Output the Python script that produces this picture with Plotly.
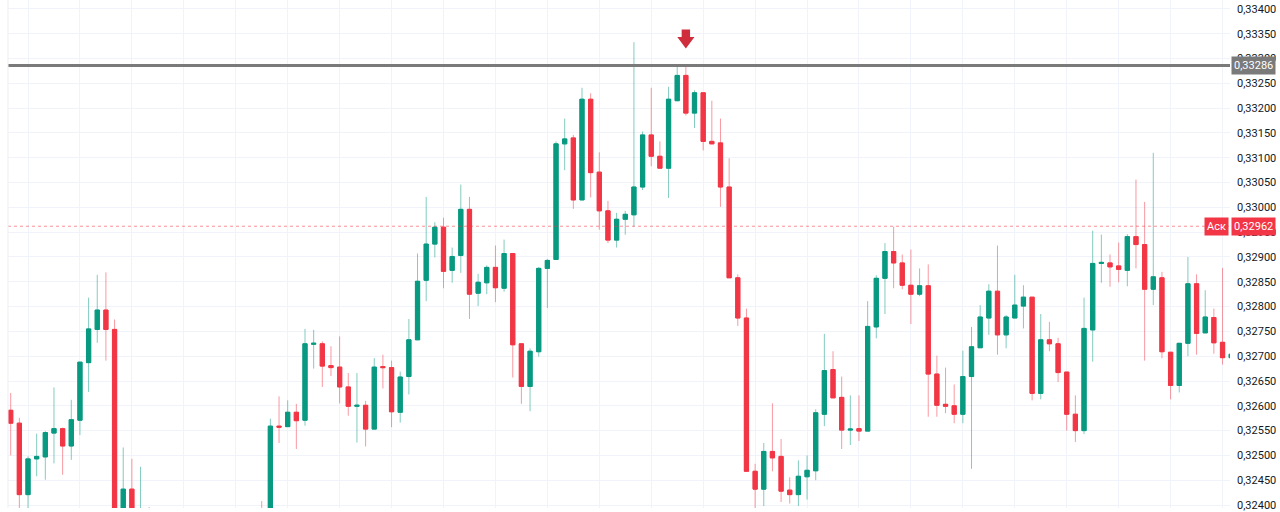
import plotly.graph_objects as go

# ---- data ----
opens = [0.32591,0.32565,0.32421,0.32493,0.32497,0.32545,0.32554,0.32519,0.32571,0.32687,
         0.32754,0.32793,0.32754,0.32380,0.32432,0.32378,0.32388,0.32350,0.32330,0.32345,
         0.32320,0.32300,0.32315,0.32290,0.32305,0.32325,0.32340,0.32330,0.32355,0.32370,
         0.32345,0.32559,0.32558,0.32587,0.32571,0.32724,0.32725,0.32681,0.32678,0.32638,
         0.32599,0.32601,0.32553,0.32679,0.32677,0.32587,0.32659,0.32733,0.32853,0.32926,
         0.32960,0.32873,0.32903,0.32996,0.32827,0.32848,0.32879,0.32837,0.32907,0.32725,
         0.32639,0.32709,0.32877,0.32895,0.33128,0.33140,0.33015,0.33218,0.33071,0.32993,
         0.32934,0.32976,0.32985,0.33041,0.33146,0.33103,0.33079,0.33215,0.33266,0.33190,
         0.33231,0.33133,0.33130,0.33041,0.32858,0.32777,0.32468,0.32432,0.32508,0.32498,
         0.32430,0.32421,0.32457,0.32469,0.32583,0.32673,0.32617,0.32551,0.32554,0.32549,
         0.32759,0.32857,0.32911,0.32888,0.32843,0.32825,0.32842,0.32664,0.32603,0.32600,
         0.32583,0.32659,0.32717,0.32777,0.32831,0.32743,0.32777,0.32801,0.32819,0.32625,
         0.32733,0.32725,0.32668,0.32583,0.32550,0.32753,0.32887,0.32888,0.32882,0.32873,
         0.32941,0.32925,0.32835,0.32858,0.32708,0.32641,0.32726,0.32846,0.32747,0.32778,
         0.32728,0.32697]
highs = [0.32626,0.32576,0.32498,0.32544,0.32549,0.32637,0.32556,0.32612,0.32688,0.32818,
         0.32864,0.32869,0.32774,0.32516,0.32493,0.32477,0.32396,0.32370,0.32360,0.32365,
         0.32340,0.32335,0.32330,0.32320,0.32340,0.32360,0.32365,0.32375,0.32385,0.32408,
         0.32574,0.32619,0.32611,0.32604,0.32755,0.32753,0.32730,0.32720,0.32740,0.32666,
         0.32666,0.32610,0.32696,0.32703,0.32691,0.32669,0.32775,0.32907,0.33021,0.32970,
         0.32979,0.32919,0.33046,0.33021,0.32866,0.32883,0.32923,0.32935,0.32907,0.32725,
         0.32716,0.32880,0.32896,0.33133,0.33179,0.33146,0.33241,0.33230,0.33111,0.33013,
         0.32989,0.32993,0.33333,0.33153,0.33241,0.33133,0.33243,0.33285,0.33288,0.33236,
         0.33231,0.33215,0.33179,0.33099,0.32865,0.32796,0.32483,0.32525,0.32605,0.32533,
         0.32456,0.32490,0.32500,0.32593,0.32745,0.32710,0.32659,0.32621,0.32621,0.32811,
         0.32863,0.32928,0.32961,0.32905,0.32915,0.32877,0.32885,0.32701,0.32677,0.32643,
         0.32711,0.32759,0.32803,0.32845,0.32923,0.32783,0.32864,0.32843,0.32819,0.32785,
         0.32769,0.32737,0.32668,0.32621,0.32818,0.32953,0.32945,0.32905,0.32929,0.32946,
         0.33056,0.33011,0.33110,0.32870,0.32708,0.32726,0.32900,0.32865,0.32833,0.32796,
         0.32878,0.32715]
lows = [0.32500,0.32390,0.32390,0.32458,0.32451,0.32484,0.32461,0.32491,0.32541,0.32628,
        0.32727,0.32691,0.32360,0.32365,0.32350,0.32340,0.32330,0.32310,0.32300,0.32300,
        0.32280,0.32285,0.32270,0.32275,0.32295,0.32310,0.32315,0.32320,0.32340,0.32330,
        0.32335,0.32525,0.32558,0.32513,0.32560,0.32675,0.32638,0.32660,0.32605,0.32580,
        0.32526,0.32518,0.32553,0.32635,0.32557,0.32566,0.32623,0.32733,0.32811,0.32899,
        0.32837,0.32848,0.32868,0.32775,0.32801,0.32825,0.32809,0.32830,0.32657,0.32604,
        0.32589,0.32699,0.32797,0.32895,0.33075,0.32997,0.33015,0.33020,0.32955,0.32928,
        0.32919,0.32945,0.32961,0.33035,0.33083,0.33079,0.33019,0.33215,0.33185,0.33160,
        0.33115,0.33128,0.33001,0.32858,0.32761,0.32468,0.32394,0.32398,0.32468,0.32406,
        0.32403,0.32398,0.32411,0.32450,0.32559,0.32616,0.32513,0.32521,0.32529,0.32549,
        0.32736,0.32785,0.32837,0.32835,0.32765,0.32821,0.32578,0.32578,0.32585,0.32565,
        0.32565,0.32473,0.32717,0.32743,0.32703,0.32716,0.32777,0.32756,0.32611,0.32613,
        0.32710,0.32648,0.32550,0.32527,0.32543,0.32689,0.32848,0.32840,0.32849,0.32841,
        0.32877,0.32691,0.32803,0.32696,0.32613,0.32627,0.32700,0.32703,0.32747,0.32705,
        0.32683,0.32695]
closes = [0.32565,0.32421,0.32493,0.32498,0.32546,0.32554,0.32519,0.32572,0.32688,0.32755,
          0.32793,0.32754,0.32380,0.32432,0.32378,0.32388,0.32350,0.32330,0.32345,0.32320,
          0.32300,0.32315,0.32290,0.32305,0.32325,0.32340,0.32330,0.32355,0.32370,0.32345,
          0.32559,0.32557,0.32587,0.32570,0.32725,0.32726,0.32680,0.32677,0.32638,0.32599,
          0.32601,0.32553,0.32678,0.32677,0.32588,0.32658,0.32733,0.32851,0.32926,0.32960,
          0.32871,0.32901,0.32996,0.32825,0.32849,0.32879,0.32838,0.32907,0.32723,0.32639,
          0.32710,0.32877,0.32893,0.33128,0.33138,0.33015,0.33218,0.33070,0.32993,0.32934,
          0.32976,0.32986,0.33041,0.33146,0.33103,0.33079,0.33218,0.33266,0.33190,0.33231,
          0.33133,0.33128,0.33041,0.32858,0.32777,0.32468,0.32432,0.32508,0.32495,0.32428,
          0.32421,0.32458,0.32470,0.32586,0.32671,0.32616,0.32551,0.32553,0.32549,0.32760,
          0.32857,0.32911,0.32888,0.32843,0.32825,0.32842,0.32664,0.32601,0.32599,0.32583,
          0.32659,0.32719,0.32779,0.32831,0.32743,0.32779,0.32803,0.32819,0.32625,0.32733,
          0.32725,0.32667,0.32583,0.32550,0.32756,0.32887,0.32889,0.32880,0.32875,0.32941,
          0.32925,0.32835,0.32860,0.32709,0.32641,0.32726,0.32846,0.32746,0.32779,0.32727,
          0.32697,0.32704]

level_price = 0.33286       # horizontal level line
ask_price = 0.32962         # ask line
ask_label = "Аск"
signal_index = 78           # candle marked by the arrow
y_ticks = [0.32400 + 0.0005 * k for k in range(21)]

# ---- styling ----
GREEN = "#089981"
RED = "#F23645"
GREEN_WICK = "rgba(8,153,129,0.5)"
RED_WICK = "rgba(242,54,69,0.5)"
GRID = "#f0f3fa"

n = len(opens)
xs = list(range(n))
body_hi = [max(o, c) for o, c in zip(opens, closes)]
body_lo = [min(o, c) for o, c in zip(opens, closes)]

fig = go.Figure()
# wicks
fig.add_trace(go.Candlestick(
    x=xs, open=opens, high=highs, low=lows, close=closes,
    increasing=dict(line=dict(color=GREEN_WICK, width=1), fillcolor=GREEN_WICK),
    decreasing=dict(line=dict(color=RED_WICK, width=1), fillcolor=RED_WICK),
    hoverinfo="skip", showlegend=False))
# bodies
fig.add_trace(go.Candlestick(
    x=xs, open=opens, high=body_hi, low=body_lo, close=closes,
    increasing=dict(line=dict(color=GREEN, width=1), fillcolor=GREEN),
    decreasing=dict(line=dict(color=RED, width=1), fillcolor=RED),
    showlegend=False))

# plot geometry (pixels)
W, H = 1280, 512
ML, MR = 8, 50
step_px = 8.656
first_px = 10.7
x0 = -(first_px - ML) / step_px
x1 = x0 + (W - ML - MR) / step_px
px_per_price = 25 / 0.0005
y_lo = 0.32400 - 3 / px_per_price
y_hi = y_lo + H / px_per_price

# level line
fig.add_shape(type="line", xref="paper", yref="y", x0=0, x1=1,
              y0=level_price, y1=level_price, line=dict(color="#7a7a7a", width=3))
# ask dotted line
fig.add_shape(type="line", xref="paper", yref="y", x0=0, x1=1,
              y0=ask_price, y1=ask_price, line=dict(color="rgba(242,54,69,0.55)", width=1, dash="dot"))
# left border
fig.add_shape(type="line", xref="paper", yref="paper", x0=0, x1=0, y0=0, y1=1,
              line=dict(color="#eceff4", width=1))

# arrow above the signal candle (pixel-sized shape anchored at the candle high)
fig.add_shape(type="path", xref="x", yref="y", xsizemode="pixel", ysizemode="pixel",
              xanchor=signal_index, yanchor=highs[signal_index],
              path="M -4.2,35 L 4.2,35 L 4.2,27.5 L 8.6,27.5 L 0,16 L -8.6,27.5 L -4.2,27.5 Z",
              fillcolor="#cf2d3c", line=dict(width=0))

lab_font = dict(family="Roboto, Arial, sans-serif", size=11, color="white")
fig.add_annotation(xref="paper", yref="y", x=1, y=level_price, xanchor="left", yanchor="middle",
                   text=f"{level_price:.5f}".replace(".", ","), showarrow=False,
                   bgcolor="#7a7a7a", font=lab_font, borderpad=2, xshift=1)
fig.add_annotation(xref="paper", yref="y", x=1, y=ask_price, xanchor="left", yanchor="middle",
                   text=f"{ask_price:.5f}".replace(".", ","), showarrow=False,
                   bgcolor=RED, font=lab_font, borderpad=2, xshift=1)
fig.add_annotation(xref="paper", yref="y", x=1, y=ask_price, xanchor="right", yanchor="middle",
                   text=ask_label, showarrow=False,
                   bgcolor=RED, font=lab_font, borderpad=2, xshift=-1)

fig.update_layout(
    width=W, height=H,
    margin=dict(l=ML, r=MR, t=0, b=0),
    paper_bgcolor="white", plot_bgcolor="white",
    separators=", ",
    showlegend=False,
    xaxis=dict(range=[x0, x1], rangeslider=dict(visible=False), showticklabels=False,
               tickvals=list(range(2, n, 6)), showgrid=True, gridcolor=GRID, gridwidth=1,
               zeroline=False, showline=False, ticks=""),
    yaxis=dict(side="right", range=[y_lo, y_hi], tickvals=y_ticks, tickformat=".5f",
               showgrid=True, gridcolor=GRID, gridwidth=1, zeroline=False, showline=False,
               ticks="", ticklabelstandoff=6, ticklabeloverflow="allow",
               tickfont=dict(family="Roboto, Arial, sans-serif", size=11, color="#131722")),
)

fig.write_html("out.html", config={"displayModeBar": False},
               post_script="document.body.style.margin='0';document.body.style.overflow='hidden';")
